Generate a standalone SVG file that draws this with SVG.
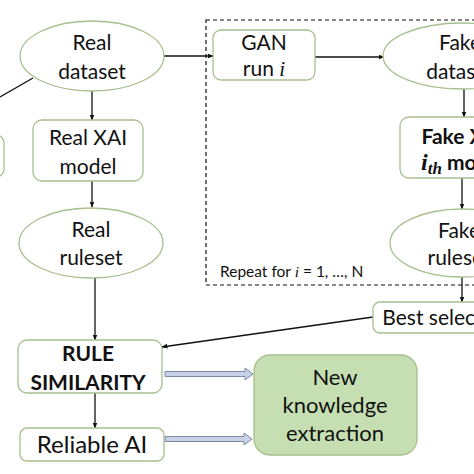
<svg xmlns="http://www.w3.org/2000/svg" width="474" height="474" viewBox="0 0 474 474">
<style>
.n{fill:#ffffff;stroke:#a8bf8e;stroke-width:1.3}
.t{font-family:Lato,"Open Sans",sans-serif;font-size:21px;fill:#111;text-anchor:middle}
.b{font-weight:bold}
.m{font-family:"Liberation Serif",serif;font-style:italic}
.c{stroke:#111;stroke-width:1.3;fill:none}
.blk{fill:#c8d2e6;stroke:#7b8aa6;stroke-width:1}
</style>
<defs>
<marker id="ah" viewBox="0 0 10 10" refX="9" refY="5" markerWidth="6" markerHeight="6" orient="auto" markerUnits="userSpaceOnUse">
<path d="M0,1 L10,5 L0,9 Z" fill="#111"/>
</marker>
</defs>
<rect width="474" height="474" fill="#ffffff"/>
<rect x="206" y="20" width="300" height="265" fill="none" stroke="#111" stroke-width="1.2" stroke-dasharray="4,3"/>
<text class="t" x="220" y="277" style="font-size:15.5px;text-anchor:start">Repeat for <tspan class="m">i</tspan> = 1, …, N</text>

<g id="connectors">
<line class="c" x1="0" y1="97" x2="33" y2="78"/>
<line class="c" x1="92" y1="91" x2="92" y2="120" marker-end="url(#ah)"/>
<line class="c" x1="92" y1="181" x2="92" y2="207" marker-end="url(#ah)"/>
<line class="c" x1="95" y1="278" x2="95" y2="340" marker-end="url(#ah)"/>
<line class="c" x1="95" y1="393" x2="95" y2="428" marker-end="url(#ah)"/>
<line class="c" x1="164" y1="56" x2="213" y2="56" marker-end="url(#ah)"/>
<line class="c" x1="315" y1="57" x2="384" y2="57" marker-end="url(#ah)"/>
<line class="c" x1="464" y1="89" x2="464" y2="117" marker-end="url(#ah)"/>
<line class="c" x1="462" y1="178" x2="462" y2="209" marker-end="url(#ah)"/>
<line class="c" x1="462" y1="277" x2="462" y2="302" marker-end="url(#ah)"/>
<line class="c" x1="373" y1="317" x2="162" y2="347" marker-end="url(#ah)"/>
<path class="blk" d="M165,371.5 L245,371.5 L245,368 L253,374 L245,380 L245,376.5 L165,376.5 Z"/>
<path class="blk" d="M165,436.5 L244,436.5 L244,433 L252,439 L244,445 L244,441.5 L165,441.5 Z"/>
</g>

<g id="left-partial">
<rect class="n" x="-60" y="135" width="64" height="42" rx="8"/>
</g>

<g id="real-dataset">
<ellipse class="n" cx="92" cy="56" rx="72" ry="35"/>
<text class="t" x="92" y="50">Real</text>
<text class="t" x="92" y="79">dataset</text>
</g>

<g id="real-xai">
<rect class="n" x="33" y="120" width="110" height="61" rx="9"/>
<text class="t" x="88" y="145">Real XAI</text>
<text class="t" x="88" y="174">model</text>
</g>

<g id="real-ruleset">
<ellipse class="n" cx="91" cy="243" rx="72" ry="35"/>
<text class="t" x="91" y="237">Real</text>
<text class="t" x="91" y="265">ruleset</text>
</g>

<g id="rule-similarity">
<rect class="n" x="18" y="340" width="144" height="53" rx="9"/>
<text class="t b" x="88" y="361">RULE</text>
<text class="t b" x="88" y="390">SIMILARITY</text>
</g>

<g id="reliable-ai">
<rect class="n" x="20" y="428" width="144" height="33" rx="7"/>
<text class="t" x="92" y="453" style="font-size:24px">Reliable AI</text>
</g>

<g id="gan">
<rect class="n" x="213" y="30" width="102" height="50" rx="8"/>
<text class="t" x="264" y="50">GAN</text>
<text class="t" x="264" y="76">run <tspan class="m">i</tspan></text>
</g>

<g id="fake-dataset">
<ellipse class="n" cx="462" cy="56" rx="79" ry="33"/>
<text class="t" x="460" y="50">Fake</text>
<text class="t" x="460" y="79">dataset</text>
</g>

<g id="fake-xai">
<rect class="n" x="400" y="117" width="130" height="61" rx="9"/>
<text class="t b" x="463" y="144">Fake XAI</text>
<text class="t" x="463" y="170"><tspan class="m b" style="font-size:24px">i</tspan><tspan class="m b" style="font-size:17px" dy="4">th</tspan><tspan class="b" dy="-4"> model</tspan></text>
</g>

<g id="fake-ruleset">
<ellipse class="n" cx="462" cy="243" rx="72" ry="34"/>
<text class="t" x="459" y="238">Fake</text>
<text class="t" x="459" y="265">ruleset</text>
</g>

<g id="best-selection">
<rect class="n" x="373" y="302" width="150" height="31" rx="7"/>
<text class="t" x="447" y="325">Best selection</text>
</g>

<g id="new-knowledge">
<rect x="254" y="355" width="163" height="100" rx="16" fill="#c5dfb3" stroke="#a8bf8e" stroke-width="1.3"/>
<text class="t" x="335" y="385" style="font-size:22px">New</text>
<text class="t" x="335" y="413" style="font-size:22px">knowledge</text>
<text class="t" x="335" y="441" style="font-size:22px">extraction</text>
</g>
</svg>
